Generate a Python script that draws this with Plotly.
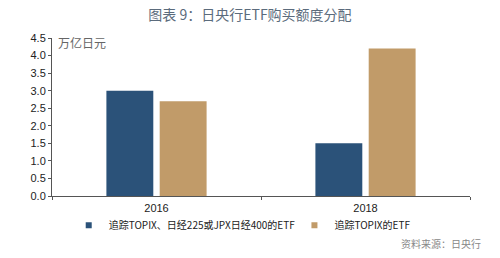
import plotly.graph_objects as go

categories = ["2016", "2018"]
series_names = ["追踪TOPIX、日经225或JPX日经400的ETF", "追踪TOPIX的ETF"]
series_a = [3.0, 1.5]
series_b = [2.7, 4.2]
colors = ["#2b5279", "#c19b69"]
y_ticks = [0, 0.5, 1.0, 1.5, 2.0, 2.5, 3.0, 3.5, 4.0, 4.5]

font_cjk = "Noto Sans CJK SC"

fig = go.Figure()
legend_ids = ["legend", "legend2"]
for name, vals, col, lg in zip(series_names, [series_a, series_b], colors, legend_ids):
    fig.add_trace(go.Bar(x=categories, y=vals, name=name, showlegend=False,
                         marker=dict(color=col, line=dict(width=0))))
    fig.add_trace(go.Scatter(x=[None], y=[None], mode="markers", name=name, legend=lg,
                             marker=dict(symbol="square", size=6, color=col)))

leg_common = dict(orientation="h", yanchor="middle", y=-0.185, xref="paper", xanchor="left",
                  font=dict(size=10, color="#222222", family=font_cjk), bgcolor="rgba(0,0,0,0)",
                  itemwidth=30, tracegroupgap=0)

fig.update_layout(
    width=500, height=258,
    margin=dict(l=52, r=30, t=38, b=62, autoexpand=False),
    paper_bgcolor="white", plot_bgcolor="white",
    barmode="group", bargap=0.49, bargroupgap=0.12,
    font=dict(family=font_cjk, color="#333333", size=11),
    title=dict(text="图表 9：日央行ETF购买额度分配", x=0.5, xanchor="center", y=0.94, yanchor="middle",
               font=dict(size=14, color="#5b6b7c", family=font_cjk)),
    showlegend=True,
    legend=dict(leg_common, x=0.04),
    legend2=dict(leg_common, x=0.58),
    xaxis=dict(type="category", showline=True, linecolor="#555555", linewidth=1,
               ticks="outside", ticklen=3, tickcolor="#555555", tickson="boundaries",
               ticklabelstandoff=2,
               tickfont=dict(size=11, color="#222222", family="Liberation Sans"), showgrid=False),
    yaxis=dict(range=[0, 4.5], tickvals=y_ticks, tickformat=".1f", showline=True, linecolor="#555555",
               linewidth=1, ticks="outside", ticklen=3, tickcolor="#555555", showgrid=False,
               zeroline=False, tickfont=dict(size=11, color="#222222", family="Liberation Sans")),
    annotations=[
        dict(text="万亿日元", xref="paper", yref="paper", x=0.01, y=0.97, xanchor="left", yanchor="middle",
             showarrow=False, font=dict(size=12, color="#666666", family=font_cjk)),
        dict(text="资料来源：日央行", xref="paper", yref="paper", x=1.03, y=-0.30, xanchor="right",
             yanchor="middle", showarrow=False, font=dict(size=10, color="#888888", family=font_cjk)),
    ],
)

fig.write_html("out.html")
